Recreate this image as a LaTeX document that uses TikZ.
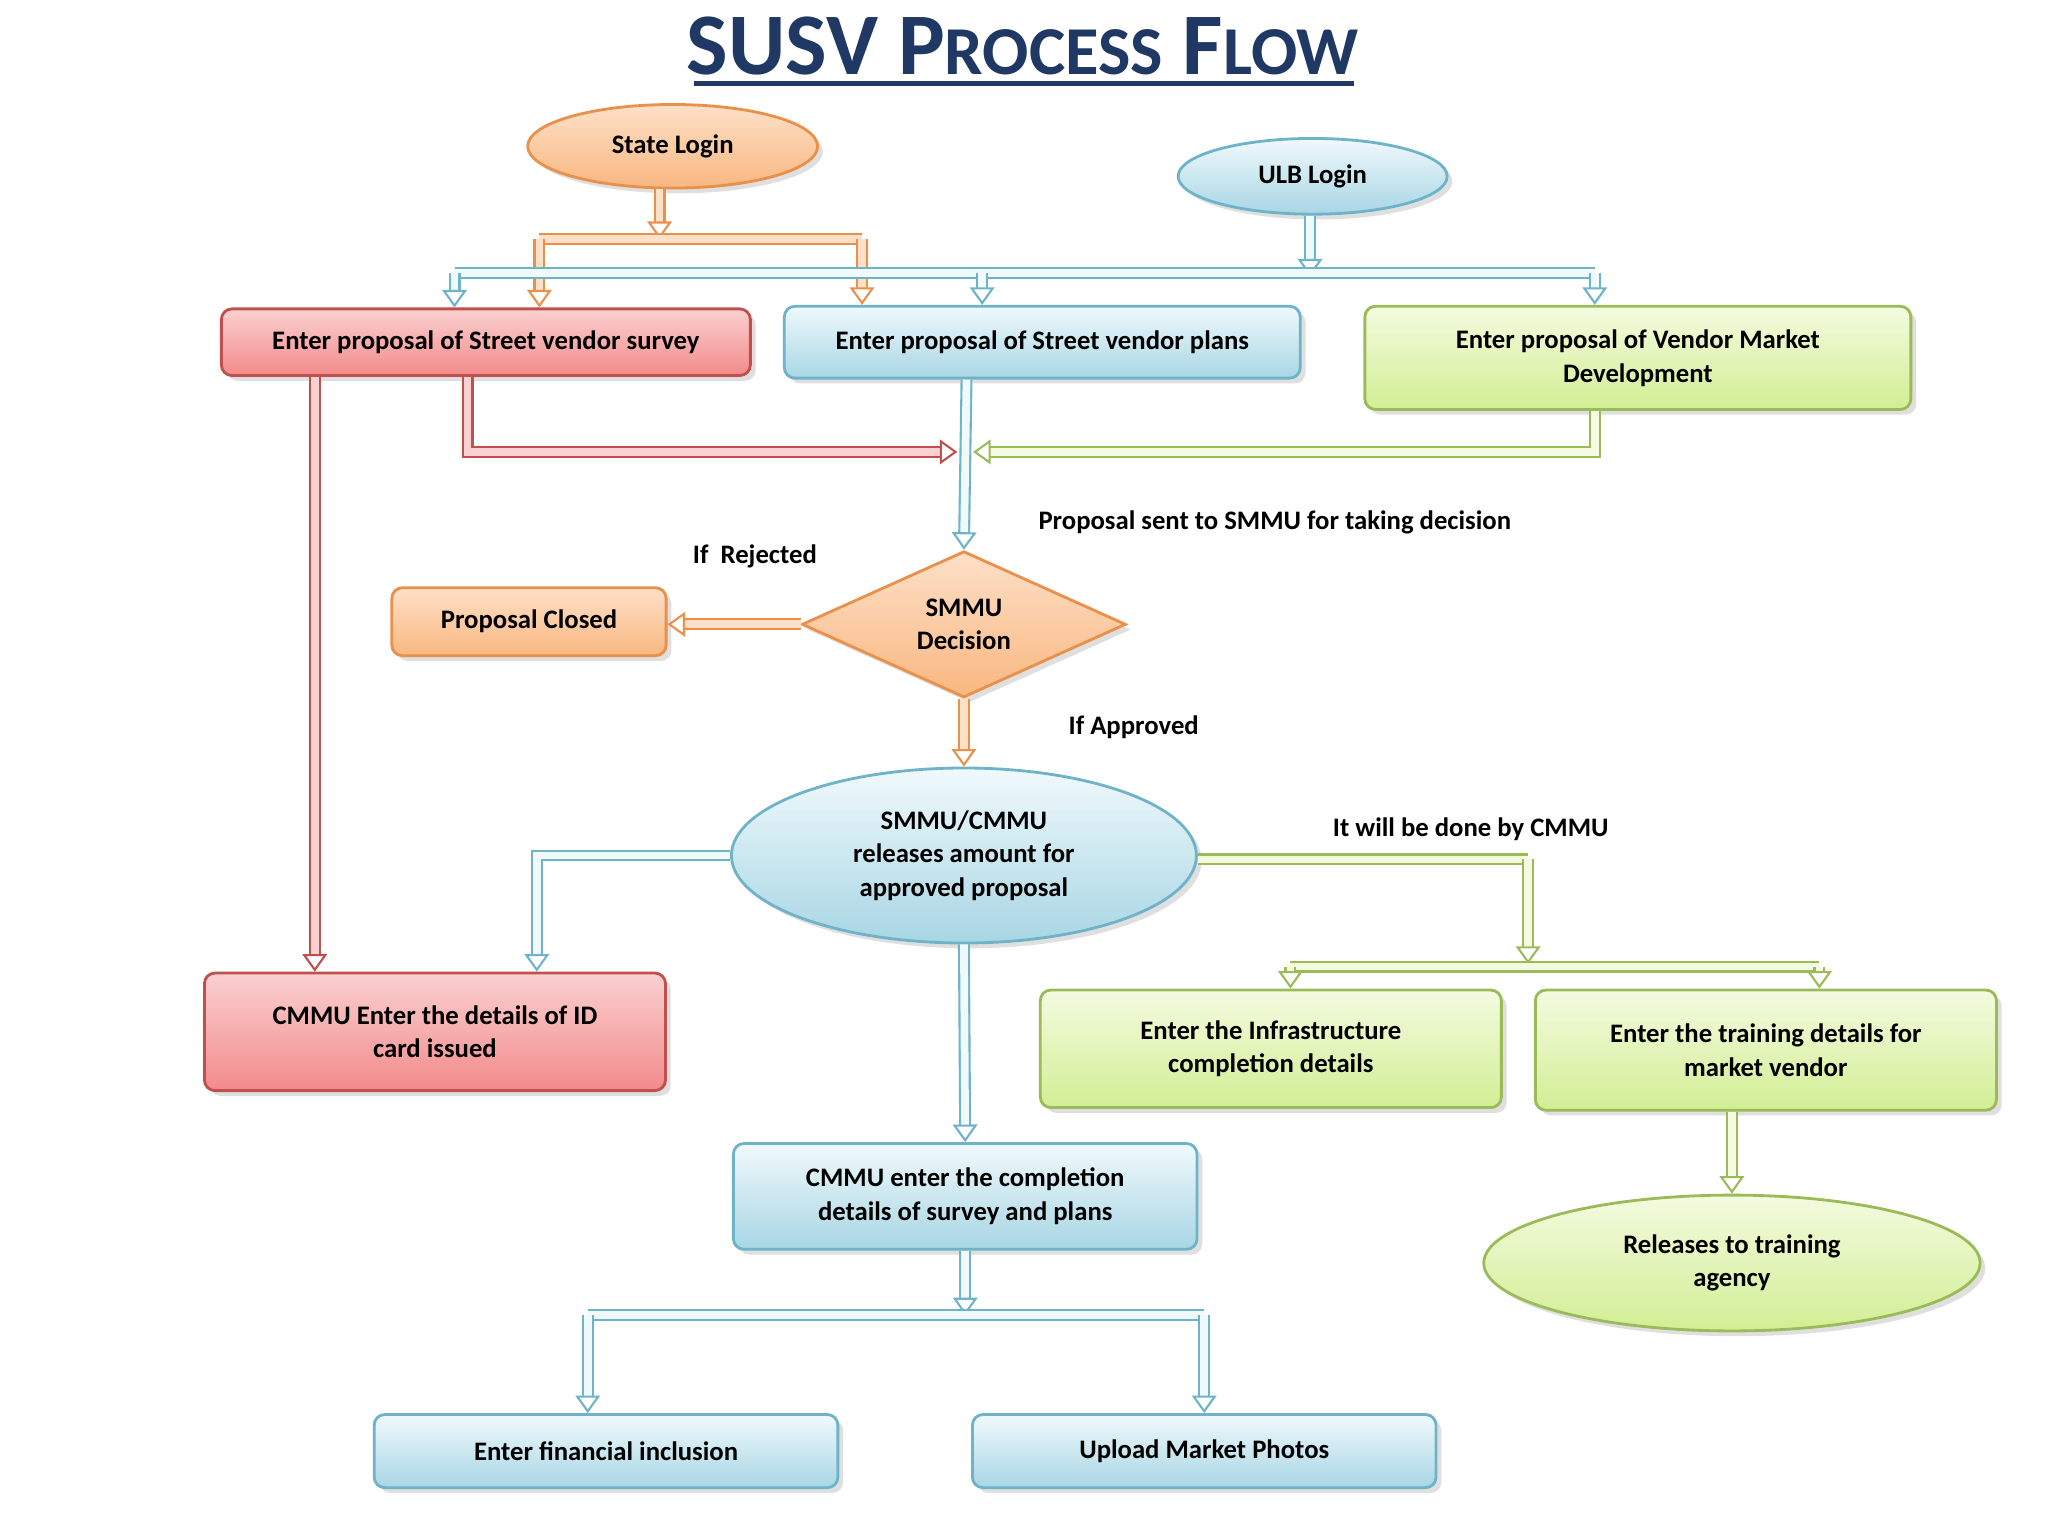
\documentclass[tikz,border=0pt]{standalone}
\usepackage{fontspec}
\setmainfont{Carlito}
\usetikzlibrary{shapes.geometric,arrows.meta,shadows}
\definecolor{tb}{HTML}{1F3864}
\definecolor{rB}{HTML}{C0504D}\definecolor{rT}{HTML}{FBD0D0}\definecolor{rD}{HTML}{F28A8A}
\definecolor{oB}{HTML}{E9904A}\definecolor{oT}{HTML}{FDE0C8}\definecolor{oD}{HTML}{F9B780}
\definecolor{bB}{HTML}{6FB3C9}\definecolor{bT}{HTML}{F0F9FC}\definecolor{bD}{HTML}{A8D6E4}
\definecolor{gB}{HTML}{9BBB59}\definecolor{gT}{HTML}{F4FBE0}\definecolor{gD}{HTML}{D2EE94}
\begin{document}
\begin{tikzpicture}[x=0.01306cm,y=-0.01306cm,
 every node/.style={font=\fontsize{7.6}{9.6}\selectfont\bfseries, align=center, text=black},
 box/.style={rectangle, rounded corners=3pt, line width=0.8pt, drop shadow={opacity=0.25,shadow xshift=1.5pt,shadow yshift=-1.5pt}},
 red/.style={box, draw=rB, top color=rT, bottom color=rD},
 org/.style={box, draw=oB, top color=oT, bottom color=oD},
 blu/.style={box, draw=bB, top color=bT, bottom color=bD},
 grn/.style={box, draw=gB, top color=gT, bottom color=gD},
 el/.style={ellipse, inner sep=0pt},
 pipe/.style={line width=0.6pt, double distance=2.2pt, -{Triangle[open,width=7pt,length=5pt,line width=0.6pt]}},
 pl/.style={line width=0.6pt, double distance=2.2pt},
 pr/.style={pipe, draw=rB, double=rT}, plr/.style={pl, draw=rB, double=rT},
 po/.style={pipe, draw=oB, double=oT}, plo/.style={pl, draw=oB, double=oT},
 pb/.style={pipe, draw=bB, double=bT}, plb/.style={pl, draw=bB, double=bT},
 pg/.style={pipe, draw=gB, double=gT}, plg/.style={pl, draw=gB, double=gT},
 lab/.style={font=\fontsize{7.6}{9.6}\selectfont\bfseries}
]
\useasboundingbox (0,0) rectangle (1568,1176);
\node[text=tb, font=\fontsize{25}{28}\selectfont\bfseries] (title) at (783,35)
 {SUSV P{\fontsize{19.5}{22}\selectfont ROCESS} F{\fontsize{19.5}{22}\selectfont LOW}};
\draw[tb, line width=1.5pt] (531,64) -- (1037,64);

\node[org, el, minimum width=222*0.01306cm, minimum height=64*0.01306cm] (sl) at (515,112) {State Login};
\node[blu, el, minimum width=206*0.01306cm, minimum height=58*0.01306cm] (ulb) at (1005,135) {ULB Login};
\node[red, minimum width=405*0.01306cm, minimum height=51*0.01306cm] (b1) at (372,262) {Enter proposal of Street vendor survey};
\node[blu, minimum width=395*0.01306cm, minimum height=55*0.01306cm] (b2) at (798,262) {Enter proposal of Street vendor plans};
\node[grn, minimum width=418*0.01306cm, minimum height=79*0.01306cm] (b3) at (1254,274) {Enter proposal of Vendor Market\\Development};
\node[org, minimum width=210*0.01306cm, minimum height=52*0.01306cm] (pc) at (405,476) {Proposal Closed};
\node[org, diamond, aspect=2.2, minimum width=248*0.01306cm, minimum height=112*0.01306cm, inner sep=0pt, rounded corners=0pt] (dec) at (738,478) {SMMU\\Decision};
\node[blu, el, minimum width=356*0.01306cm, minimum height=134*0.01306cm] (rel) at (738,655) {SMMU/CMMU\\releases amount for\\approved proposal};
\node[red, minimum width=353*0.01306cm, minimum height=90*0.01306cm] (id) at (333,790) {CMMU Enter the details of ID\\card issued};
\node[grn, minimum width=353*0.01306cm, minimum height=90*0.01306cm] (inf) at (973,803) {Enter the Infrastructure\\completion details};
\node[grn, minimum width=353*0.01306cm, minimum height=92*0.01306cm] (tr) at (1352,804) {Enter the training details for\\market  vendor};
\node[grn, el, minimum width=380*0.01306cm, minimum height=104*0.01306cm] (ag) at (1326,967) {Releases to training\\agency};
\node[blu, minimum width=355*0.01306cm, minimum height=81*0.01306cm] (cc) at (739,916) {CMMU enter the completion\\details of survey and plans};
\node[blu, minimum width=355*0.01306cm, minimum height=56*0.01306cm] (fi) at (464,1111) {Enter financial inclusion};
\node[blu, minimum width=355*0.01306cm, minimum height=56*0.01306cm] (up) at (922,1111) {Upload Market Photos};

\node[lab] (l1) at (976,400) {Proposal sent to SMMU for taking decision};
\node[lab] (l2) at (578,426) {If~~Rejected};
\node[lab] (l3) at (868,557) {If Approved};
\node[lab] (l4) at (1126,635) {It will be done by CMMU};

\coordinate (so) at (505,183);
\coordinate (so1) at (413,183); \coordinate (so2) at (660,183);
\coordinate (uj) at (1003,209);
\coordinate (u1) at (348,209); \coordinate (u2) at (752,209); \coordinate (u3) at (1221,209);
\coordinate (r1) at (358,346); \coordinate (rE) at (733,346);
\coordinate (g1) at (1221,346); \coordinate (gE) at (745,346);
\coordinate (bl) at (411,655);
\coordinate (gr) at (1170,658); \coordinate (gj) at (1170,738);
\coordinate (g2) at (988,740); \coordinate (g3) at (1393,740);
\coordinate (cj) at (739,1007);
\coordinate (c1) at (450,1007); \coordinate (c2) at (922,1007);

\draw[po] (sl.south -| so) -- (so);
\draw[plo] (so1) -- (so2);
\draw[po] (so1) -- (so1 |- b1.north);
\draw[po] (so2) -- (so2 |- b2.north);
\draw[pb] (ulb.south -| uj) -- ([yshift=-1]uj);
\draw[plb] (u1) -- (u3);
\draw[pb] (u1) -- (u1 |- b1.north);
\draw[pb] (u2) -- (u2 |- b2.north);
\draw[pb] (u3) -- (u3 |- b3.north);
\draw[pr] (b1.south -| r1) -- (r1) -- (rE);
\draw[pr] (b1.south -| 241,0) -- (id.north -| 241,0);
\draw[pg] (b3.south -| g1) -- (g1) -- (gE);
\draw[pb] (b2.south -| 740,0) -- (dec.north);
\draw[po] (dec.west) -- (dec.west -| pc.east);
\draw[po] (dec.south) -- (rel.north);
\draw[pb] (rel.west) -- (bl) -- (bl |- id.north);
\draw[plg] (rel.east |- gr) -- (gr);
\draw[pg] (gr) -- (gj);
\draw[plg] (g2) -- (g3);
\draw[pg] (g2) -- (g2 |- inf.north);
\draw[pg] (g3) -- (g3 |- tr.north);
\draw[pg] (tr.south -| ag.north) -- (ag.north);
\draw[pb] (rel.south) -- (cc.north);
\draw[pb] (cc.south) -- (cj);
\draw[plb] (c1) -- (c2);
\draw[pb] (c1) -- (c1 |- fi.north);
\draw[pb] (c2) -- (c2 |- up.north);
\end{tikzpicture}
\end{document}
